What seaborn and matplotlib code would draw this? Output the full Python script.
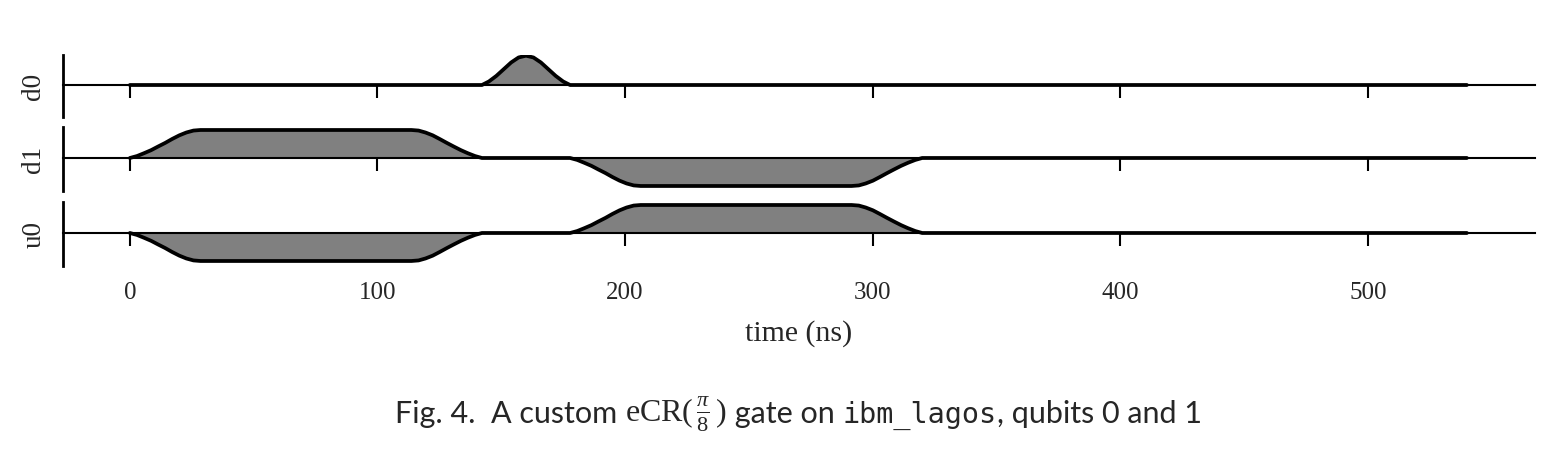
import matplotlib
matplotlib.use("Agg")
import matplotlib.pyplot as plt
import seaborn as sns

# ---------------- data ----------------
channels = ["d0", "d1", "u0"]
xticks = [0, 100, 200, 300, 400, 500]

# d0: single Gaussian pulse (ns, normalised amplitude)
t_d0 = [0, 142.2, 145, 148, 151, 154, 157, 160, 163, 166, 169, 172, 175, 177.8, 540]
amp_d0 = [0, 0, 0.12, 0.31, 0.54, 0.77, 0.94, 1.0, 0.94, 0.77, 0.54, 0.31, 0.12, 0, 0]

# d1 / u0: two Gaussian-square cross-resonance pulses
t_cr = [0, 2.9, 5.7, 8.6, 11.4, 14.3, 17.1, 20.0, 22.8, 25.7, 28.5,
        113.7, 116.6, 119.4, 122.3, 125.1, 128.0, 130.8, 133.7, 136.5, 139.4, 142.2,
        177.8, 180.7, 183.5, 186.4, 189.2, 192.1, 194.9, 197.8, 200.6, 203.5, 206.3,
        291.5, 294.4, 297.2, 300.1, 302.9, 305.8, 308.6, 311.5, 314.3, 317.2, 320.0,
        540.0]
amp_d1 = [0, 0.07, 0.17, 0.28, 0.41, 0.54, 0.68, 0.81, 0.91, 0.98, 1.0,
          1.0, 0.98, 0.91, 0.81, 0.68, 0.54, 0.41, 0.28, 0.17, 0.07, 0,
          0, -0.07, -0.17, -0.28, -0.41, -0.54, -0.68, -0.81, -0.91, -0.98, -1.0,
          -1.0, -0.98, -0.91, -0.81, -0.68, -0.54, -0.41, -0.28, -0.17, -0.07, 0,
          0]
amp_u0 = [0, -0.07, -0.17, -0.28, -0.41, -0.54, -0.68, -0.81, -0.91, -0.98, -1.0,
          -1.0, -0.98, -0.91, -0.81, -0.68, -0.54, -0.41, -0.28, -0.17, -0.07, 0,
          0, 0.07, 0.17, 0.28, 0.41, 0.54, 0.68, 0.81, 0.91, 0.98, 1.0,
          1.0, 0.98, 0.91, 0.81, 0.68, 0.54, 0.41, 0.28, 0.17, 0.07, 0,
          0]

series = {"d0": (t_d0, amp_d0), "d1": (t_cr, amp_d1), "u0": (t_cr, amp_u0)}

# caption pieces: (text, font family, size)
caption_parts = [
    ("Fig. 4.  A custom ", ["Lato", "DejaVu Sans"], 22),
    (r"eCR($\,\frac{\pi}{8}\,$)", ["Liberation Serif", "DejaVu Serif"], 23),
    (" gate on ", ["Lato", "DejaVu Sans"], 22),
    ("ibm_lagos", ["DejaVu Sans Mono"], 20.5),
    (", qubits 0 and 1", ["Lato", "DejaVu Sans"], 22),
]

# ---------------- style ----------------
sns.set_theme(style="white")
plt.rcParams["font.family"] = ["Liberation Serif", "DejaVu Serif"]
plt.rcParams["mathtext.fontset"] = "custom"
plt.rcParams["mathtext.rm"] = "Liberation Serif"
plt.rcParams["mathtext.it"] = "Liberation Serif:italic"
plt.rcParams["mathtext.tt"] = "DejaVu Sans Mono"

W, H = 1562, 458
fig = plt.figure(figsize=(W / 100, H / 100), dpi=100)

left, width = 63 / W, (1535 - 63) / W
boxes = {"d0": (55, 117), "d1": (127, 191), "u0": (202, 266)}
ylims = {"d0": (-1.092, 1.024), "d1": (-1.179, 1.107), "u0": (-1.179, 1.107)}

axes = []
for ch in channels:
    top, bot = boxes[ch]
    ax = fig.add_axes([left, 1 - bot / H, width, (bot - top) / H])
    t, a = series[ch]
    ax.fill_between(t, 0, a, color="#808080", lw=0, zorder=2)
    sns.lineplot(x=t, y=a, ax=ax, color="black", lw=2.7, estimator=None,
                 sort=False, zorder=3)
    ax.set_xlim(-27, 567.5)
    ax.set_ylim(*ylims[ch])
    ax.set_xticks(xticks)
    for s in ("top", "right"):
        ax.spines[s].set_visible(False)
    ax.spines["bottom"].set_position(("data", 0))
    ax.spines["bottom"].set_linewidth(1.5)
    ax.spines["bottom"].set_color("black")
    ax.spines["left"].set_linewidth(2.0)
    ax.spines["left"].set_color("black")
    ax.tick_params(axis="y", left=False, labelleft=False)
    ax.tick_params(axis="x", bottom=True, direction="out", length=9,
                   width=1.5, color="black", labelbottom=False)
    ax.set_ylabel(ch, fontsize=19.5, labelpad=12)
    ax.grid(False)
    ax.patch.set_visible(False)
    axes.append(ax)

axb = axes[-1]
axb.tick_params(axis="x", labelbottom=True, pad=26, labelsize=18)
axb.set_xlabel("time (ns)", fontsize=21.5)
axb.xaxis.set_label_coords(0.5, -0.85)

# caption laid out piece by piece, centred
renderer = fig.canvas.get_renderer()
texts = []
for txt, fam, size in caption_parts:
    tobj = fig.text(0, 1 - 423 / H, txt, ha="left", va="baseline",
                    fontsize=size, family=fam)
    texts.append(tobj)
widths = [tobj.get_window_extent(renderer).width for tobj in texts]
x = 798.5 - sum(widths) / 2
for tobj, w in zip(texts, widths):
    tobj.set_x(x / W)
    x += w

fig.savefig("out.png", dpi=100)
